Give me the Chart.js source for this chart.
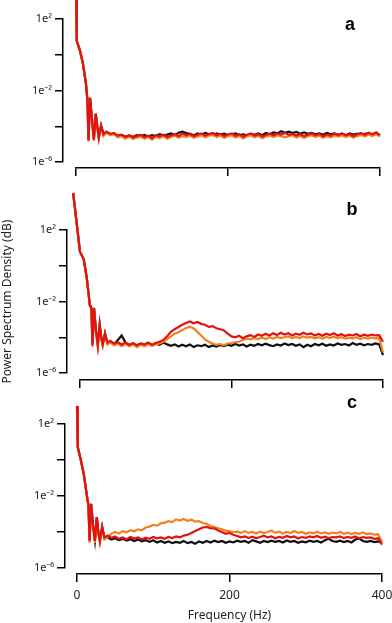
<!DOCTYPE html>
<html>
<head>
<meta charset="utf-8">
<script src="https://cdn.jsdelivr.net/npm/chart.js@4.4.1/dist/chart.umd.min.js"></script>
<style>
  html, body { margin: 0; padding: 0; overflow: hidden; background: #fff; }
  body { width: 392px; height: 623px; position: relative; }
  canvas { position: absolute; left: 0; }
  .tag { position: absolute; font: bold 18px "Liberation Sans", Arial, sans-serif; color: #000; line-height: 1; transform: translate(-50%, -50%); }
</style>
</head>
<body>
<canvas id="chartA" width="420" height="180" style="top:0px"></canvas>
<canvas id="chartB" width="420" height="210" style="top:180px"></canvas>
<canvas id="chartC" width="420" height="233" style="top:390px"></canvas>
<div class="tag" style="left:350px;top:24px">a</div>
<div class="tag" style="left:352px;top:209px">b</div>
<div class="tag" style="left:352px;top:402px">c</div>
<script>
//DATA (PSD values are stored as log10 exponents)
const freq = [0, 1, 5, 9, 13, 15, 16.5, 18.5, 21, 23.5, 26, 28, 30, 33, 36,
  40, 45, 50, 55, 60, 65, 70, 75, 80, 85,
  90, 95, 100, 105, 110, 115, 120, 125, 130, 135,
  140, 145, 150, 155, 160, 165, 170, 175, 180, 185,
  190, 195, 200, 205, 210, 215, 220, 225, 230, 235,
  240, 245, 250, 255, 260, 265, 270, 275, 280, 285,
  290, 295, 300, 305, 310, 315, 320, 325, 330, 335,
  340, 345, 350, 355, 360, 365, 370, 375, 380, 385,
  390, 395, 400];
// panel b starts a little before 0 Hz
const freqB = [-9].concat(freq);

const yTickExp = [-6, -4, -2, 0, 2];
const yTickText = ["1e\u207B\u2076", "", "1e\u207B\u00B2", "", "1e\u00B2"];
const xTickVals = [0, 200, 400];

// panel a
const aRed = [4.0, 0.77, 0.27, -0.46, -1.58, -2.5, -4.8, -2.4, -3.6, -4.75, -3.3, -4.0, -4.65, -3.95, -4.45,
  -4.3, -4.42, -4.38, -4.52, -4.47, -4.6, -4.5, -4.62, -4.55, -4.48,
  -4.6, -4.53, -4.66, -4.5, -4.57, -4.48, -4.6, -4.52, -4.45, -4.56,
  -4.4, -4.5, -4.43, -4.55, -4.47, -4.4, -4.52, -4.44, -4.38, -4.5,
  -4.42, -4.55, -4.46, -4.4, -4.53, -4.45, -4.58, -4.47, -4.4, -4.52,
  -4.44, -4.57, -4.48, -4.42, -4.5, -4.4, -4.46, -4.37, -4.48, -4.43,
  -4.52, -4.45, -4.55, -4.47, -4.4, -4.5, -4.43, -4.56, -4.46, -4.52,
  -4.42, -4.49, -4.4, -4.5, -4.44, -4.55, -4.45, -4.38, -4.48, -4.36,
  -4.45, -4.34, -4.5];
const aOrange = [4.0, 0.77, 0.27, -0.47, -1.6, -2.55, -4.85, -2.45, -3.7, -4.8, -3.35, -4.1, -4.7, -4.0, -4.55,
  -4.38, -4.5, -4.45, -4.62, -4.55, -4.7, -4.58, -4.72, -4.63, -4.57,
  -4.7, -4.6, -4.75, -4.58, -4.66, -4.56, -4.7, -4.6, -4.52, -4.64,
  -4.55, -4.6, -4.52, -4.65, -4.57, -4.5, -4.62, -4.53, -4.48, -4.6,
  -4.52, -4.66, -4.55, -4.5, -4.63, -4.54, -4.68, -4.56, -4.5, -4.62,
  -4.53, -4.67, -4.57, -4.52, -4.6, -4.5, -4.56, -4.62, -4.55, -4.5,
  -4.63, -4.55, -4.66, -4.56, -4.5, -4.6, -4.52, -4.65, -4.55, -4.62,
  -4.52, -4.58, -4.5, -4.6, -4.53, -4.64, -4.55, -4.48, -4.58, -4.46,
  -4.55, -4.44, -4.58];
const aBlack = [4.0, 0.77, 0.27, -0.46, -1.58, -2.5, -4.75, -2.42, -3.6, -4.7, -3.3, -4.0, -4.6, -3.98, -4.4,
  -4.35, -4.45, -4.4, -4.55, -4.5, -4.58, -4.52, -4.6, -4.5, -4.55,
  -4.48, -4.58, -4.5, -4.55, -4.45, -4.52, -4.47, -4.4, -4.5, -4.36,
  -4.3, -4.38, -4.42, -4.5, -4.4, -4.48, -4.38, -4.45, -4.5, -4.4,
  -4.47, -4.42, -4.5, -4.45, -4.4, -4.5, -4.45, -4.52, -4.43, -4.48,
  -4.4, -4.5, -4.38, -4.45, -4.34, -4.4, -4.28, -4.36, -4.3, -4.38,
  -4.32, -4.42, -4.34, -4.42, -4.37, -4.45, -4.4, -4.47, -4.38, -4.45,
  -4.4, -4.48, -4.42, -4.5, -4.4, -4.47, -4.42, -4.5, -4.43, -4.4,
  -4.48, -4.42, -4.5];

// panel b
const bRed = [4.07, 0.77, 0.7, 0.35, -0.7, -2.2, -2.35, -4.45, -2.36, -3.6, -4.45, -3.3, -4.0, -4.4, -3.8, -4.3,
  -4.2, -4.35, -4.28, -4.4, -4.3, -4.42, -4.33, -4.45, -4.35, -4.4,
  -4.3, -4.42, -4.32, -4.25, -4.15, -3.95, -3.7, -3.55, -3.43, -3.3,
  -3.2, -3.12, -3.22, -3.15, -3.25, -3.3, -3.42, -3.38, -3.5, -3.55,
  -3.62, -3.8, -3.95, -4.0, -3.92, -4.05, -3.95, -3.88, -3.98, -3.85,
  -3.92, -3.8, -3.9, -3.78, -3.88, -3.75, -3.85, -3.78, -3.9, -3.8,
  -3.86, -3.75, -3.84, -3.78, -3.9, -3.82, -3.92, -3.8, -3.88, -3.78,
  -3.9, -3.83, -3.93, -3.85, -3.9, -3.82, -3.95, -3.86, -3.92, -3.85,
  -3.9, -3.88, -4.25];
const bOrange = [4.07, 0.77, 0.7, 0.35, -0.72, -2.25, -2.4, -4.55, -2.4, -3.7, -4.55, -3.35, -4.1, -4.5, -3.85, -4.4,
  -4.3, -4.45, -4.35, -4.5, -4.38, -4.5, -4.4, -4.55, -4.42, -4.5,
  -4.38, -4.48, -4.4, -4.35, -4.25, -4.1, -3.95, -3.8, -3.72, -3.6,
  -3.48, -3.42, -3.5, -3.7, -3.9, -4.12, -4.25, -4.35, -4.42, -4.38,
  -4.45, -4.35, -4.32, -4.28, -4.25, -4.15, -4.08, -4.12, -4.05, -4.1,
  -4.02, -4.1, -4.0, -4.08, -3.98, -4.05, -4.0, -3.95, -4.05, -3.98,
  -4.04, -3.95, -4.02, -3.98, -4.06, -4.0, -4.08, -3.98, -4.04, -3.97,
  -4.05, -4.0, -4.08, -4.02, -4.06, -4.0, -4.1, -4.03, -4.08, -4.02,
  -4.06, -4.05, -4.85];
const bBlack = [4.07, 0.77, 0.7, 0.35, -0.7, -2.2, -2.35, -4.4, -2.36, -3.6, -4.4, -3.3, -4.0, -4.35, -3.77, -4.3,
  -4.25, -4.4, -4.15, -3.9, -4.3, -4.45, -4.35, -4.5, -4.38, -4.45,
  -4.32, -4.45, -4.35, -4.42, -4.3, -4.4, -4.48, -4.4, -4.52, -4.42,
  -4.5, -4.4, -4.55, -4.45, -4.5, -4.42, -4.55, -4.46, -4.52, -4.43,
  -4.5, -4.42, -4.48, -4.38, -4.46, -4.4, -4.52, -4.42, -4.48, -4.38,
  -4.45, -4.36, -4.44, -4.5, -4.4, -4.46, -4.35, -4.44, -4.38, -4.48,
  -4.4, -4.55, -4.42, -4.5, -4.38, -4.45, -4.36, -4.48, -4.4, -4.46,
  -4.35, -4.42, -4.38, -4.46, -4.32, -4.42, -4.36, -4.45, -4.38, -4.42,
  -4.35, -4.4, -5.0];

// panel c
const cRed = [3.0, 0.72, 0.0, -0.8, -2.0, -2.5, -4.5, -2.44, -3.6, -4.5, -3.17, -4.0, -4.5, -3.72, -4.3,
  -4.2, -4.32, -4.25, -4.38, -4.3, -4.4, -4.28, -4.36, -4.3, -4.42,
  -4.32, -4.38, -4.27, -4.35, -4.3, -4.38, -4.28, -4.34, -4.25, -4.3,
  -4.2, -4.15, -4.05, -3.95, -3.85, -3.75, -3.72, -3.78, -3.8, -3.92,
  -4.0, -4.1, -4.05, -4.15, -4.22, -4.3, -4.25, -4.33, -4.26, -4.35,
  -4.28, -4.2, -4.3, -4.24, -4.35, -4.27, -4.32, -4.22, -4.3, -4.25,
  -4.36, -4.28, -4.33, -4.25, -4.3, -4.22, -4.32, -4.26, -4.35, -4.28,
  -4.3, -4.24, -4.34, -4.27, -4.32, -4.25, -4.36, -4.28, -4.33, -4.3,
  -4.38, -4.35, -4.7];
const cOrange = [3.0, 0.72, 0.0, -0.82, -2.05, -2.55, -4.6, -2.5, -3.7, -4.6, -3.25, -4.1, -4.6, -3.8, -4.4,
  -4.3, -4.1, -4.0, -4.08, -3.95, -4.02, -3.9, -3.96, -3.85, -3.9,
  -3.75, -3.7, -3.6, -3.65, -3.52, -3.48, -3.4, -3.45, -3.3, -3.36,
  -3.28, -3.38, -3.32, -3.42, -3.4, -3.5, -3.55, -3.65, -3.72, -3.8,
  -3.85, -3.92, -3.95, -4.0, -3.98, -4.05, -3.95, -4.05, -4.0, -4.08,
  -3.98, -4.06, -4.0, -3.92, -4.05, -3.98, -4.08, -4.0, -4.06, -3.95,
  -4.05, -4.0, -4.1, -4.02, -4.07, -3.98, -4.08, -4.02, -4.1, -4.03,
  -4.08, -4.0, -4.1, -4.04, -4.12, -4.05, -4.1, -4.03, -4.12, -4.08,
  -4.15, -4.12, -4.55];
const cBlack = [3.0, 0.72, 0.0, -0.8, -2.0, -2.5, -4.45, -2.44, -3.6, -4.45, -3.17, -4.0, -4.45, -3.72, -4.35,
  -4.3, -4.42, -4.35, -4.45, -4.38, -4.48, -4.4, -4.5, -4.42, -4.52,
  -4.45, -4.55, -4.46, -4.58, -4.5, -4.6, -4.52, -4.62, -4.55, -4.6,
  -4.5, -4.62, -4.55, -4.65, -4.52, -4.6, -4.5, -4.58, -4.48, -4.56,
  -4.5, -4.6, -4.52, -4.58, -4.48, -4.55, -4.5, -4.6, -4.45, -4.52,
  -4.6, -4.5, -4.56, -4.48, -4.55, -4.5, -4.58, -4.47, -4.55, -4.5,
  -4.6, -4.52, -4.57, -4.48, -4.55, -4.5, -4.58, -4.46, -4.38, -4.5,
  -4.55, -4.48, -4.56, -4.5, -4.58, -4.42, -4.36, -4.5, -4.55, -4.5,
  -4.56, -4.52, -4.6];

const colRed = "rgb(226,18,18)";
const colOrange = "rgb(242,128,28)";
const colBlack = "rgb(15,15,15)";

Chart.defaults.font.family = '"Noto Sans", "DejaVu Sans", sans-serif';
Chart.defaults.color = "#222";

//FUNCIONES
function seriesPoints(fs, vals) {
  return vals.map(function (v, i) {
    return { x: fs[i], y: Math.pow(10, v) };
  });
}

function lineSet(fs, vals, color) {
  return {
    data: seriesPoints(fs, vals),
    borderColor: color,
    borderWidth: 2.2,
    pointRadius: 0,
    tension: 0,
    clip: false,
  };
}

function drawPanel(id, fs, red, orange, black, lay) {
  // red first so it is painted on top
  const data = {
    datasets: [lineSet(fs, red, colRed), lineSet(fs, orange, colOrange), lineSet(fs, black, colBlack)],
  };

  const config = {
    type: "line",
    data: data,
    options: {
      responsive: false,
      animation: false,
      events: [],
      layout: { padding: { left: 0, right: lay.right, top: lay.top, bottom: lay.bottom } },
      plugins: { legend: { display: false }, tooltip: { enabled: false } },
      scales: {
        x: {
          type: "linear",
          position: "bottom",
          weight: 2,
          min: 0,
          max: 400,
          afterBuildTicks: function (s) {
            s.ticks = xTickVals.map(function (v) { return { value: v }; });
          },
          ticks: {
            display: lay.xLabels,
            padding: 6,
            maxRotation: 0,
            autoSkip: false,
            color: "#222",
            font: { size: 12 },
          },
          grid: { drawOnChartArea: false, tickLength: 8, color: "#000", lineWidth: 1.5 },
          border: { color: "#000", width: 1.5 },
          title: {
            display: lay.xLabels,
            text: "Frequency (Hz)",
            color: "#222",
            font: { size: 12 },
            padding: 0,
          },
          afterFit: function (s) { s.height = lay.xHeight; },
        },
        xGap: {
          type: "linear",
          position: "bottom",
          weight: 1,
          grid: { display: false },
          border: { display: false },
          ticks: { display: false },
          afterFit: function (s) { s.height = lay.xGap; },
        },
        y: {
          type: "logarithmic",
          position: "left",
          weight: 2,
          min: 1e-6,
          max: 1e2,
          afterBuildTicks: function (s) {
            s.ticks = yTickExp.map(function (e) { return { value: Math.pow(10, e) }; });
          },
          ticks: {
            padding: 3,
            autoSkip: false,
            color: "#222",
            font: { size: 11 },
            callback: function (value, index) { return yTickText[index]; },
          },
          grid: { drawOnChartArea: false, tickLength: 8, color: "#000", lineWidth: 1.5 },
          border: { color: "#000", width: 1.5 },
          title: {
            display: lay.yTitle,
            text: "Power Spectrum Density (dB)",
            color: "#222",
            font: { size: 12 },
            padding: 0,
          },
          afterFit: function (s) { s.width = lay.yWidth; },
        },
        yGap: {
          type: "linear",
          position: "left",
          weight: 1,
          grid: { display: false },
          border: { display: false },
          ticks: { display: false },
          afterFit: function (s) { s.width = lay.yGap; },
        },
      },
    },
  };
  return new Chart(document.getElementById(id), config);
}

//PANELES
drawPanel("chartA", freq, aRed, aOrange, aBlack, {
  top: 19, bottom: 4, right: 40, yWidth: 63, yGap: 13, xGap: 6, xHeight: 8, xLabels: false, yTitle: false,
});
drawPanel("chartB", freqB, bRed, bOrange, bBlack, {
  top: 50, bottom: 2, right: 37, yWidth: 67, yGap: 13, xGap: 7, xHeight: 8, xLabels: false, yTitle: true,
});
drawPanel("chartC", freq, cRed, cOrange, cBlack, {
  top: 34, bottom: 0, right: 38, yWidth: 65, yGap: 12, xGap: 6, xHeight: 49, xLabels: true, yTitle: false,
});
</script>
</body>
</html>
